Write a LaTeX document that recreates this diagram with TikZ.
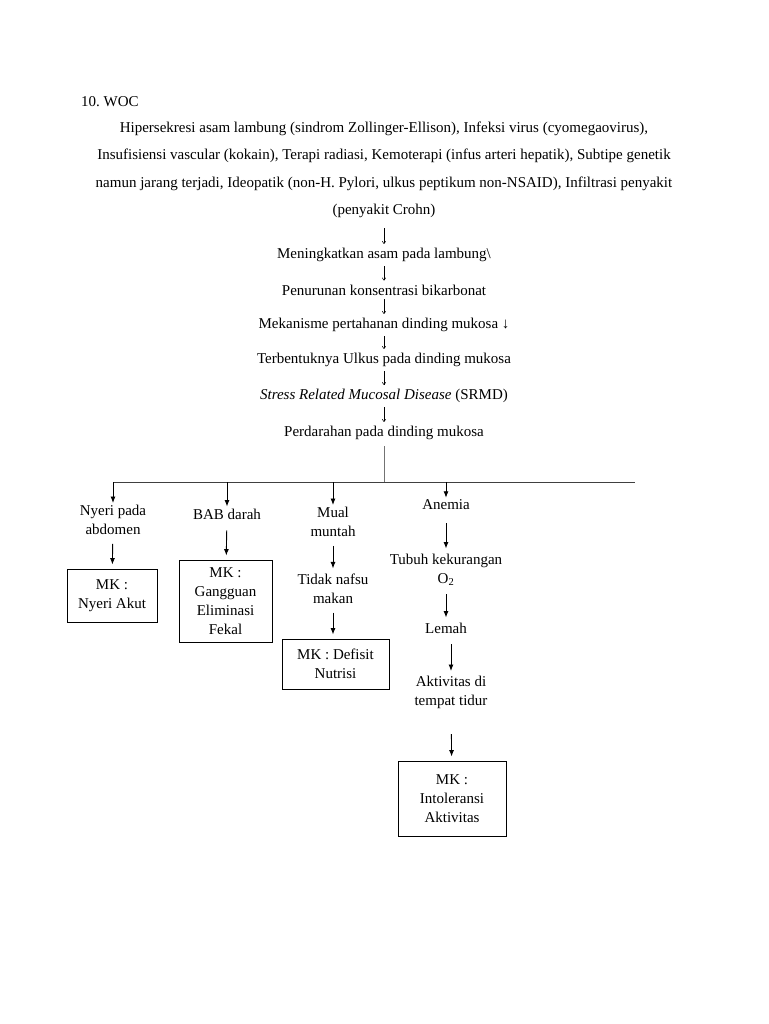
\documentclass[tikz,border=0pt]{standalone}
\usepackage{fontspec}
\setmainfont{Liberation Serif}
\usetikzlibrary{arrows.meta}
\frenchspacing

\tikzset{
  txt/.style={inner sep=1pt, align=center, font=\fontsize{15}{19}\selectfont},
  chainarr/.style={-{To[length=3pt,width=4pt]}, line width=0.5pt, shorten >=3pt, shorten <=3pt},
  arr/.style={-{Latex[length=6.5pt,width=5pt]}, line width=0.9pt, shorten <=8pt, shorten >=4pt},
  mkbox/.style={draw, line width=0.9pt, inner sep=1pt, align=center, font=\fontsize{15}{19}\selectfont}
}

\begin{document}
\begin{tikzpicture}[x=1pt,y=-1pt]
  %%%%% START %%%%%
  \useasboundingbox[fill=white] (0,0) rectangle (768,1024);

  % causes
  \node[txt, anchor=west] (title) at (80,102) {10. WOC};
  \node[txt, font=\fontsize{15}{27.5}\selectfont] (cause) at (384,170)
    {Hipersekresi asam lambung (sindrom Zollinger-Ellison), Infeksi virus (cyomegaovirus),\\
     Insufisiensi vascular (kokain), Terapi radiasi, Kemoterapi (infus arteri hepatik), Subtipe genetik\\
     namun jarang terjadi, Ideopatik (non-H. Pylori, ulkus peptikum non-NSAID), Infiltrasi penyakit\\
     (penyakit Crohn)};

  % main chain
  \node[txt] (asam) at (384,255) {Meningkatkan asam pada lambung\textbackslash};
  \node[txt] (bikar) at (384,290) {Penurunan konsentrasi bikarbonat};
  \node[txt] (mekan) at (384,325) {Mekanisme pertahanan dinding mukosa ↓};
  \node[txt] (ulkus) at (384,360) {Terbentuknya Ulkus pada dinding mukosa};
  \node[txt] (srmd) at (384,396) {\textit{Stress Related Mucosal Disease} (SRMD)};
  \node[txt] (darah) at (384,433) {Perdarahan pada dinding mukosa};

  \draw[chainarr, shorten <=9pt] (cause) -- (asam);
  \draw[chainarr] (asam) -- (bikar);
  \draw[chainarr] (bikar) -- (mekan);
  \draw[chainarr] (mekan) -- (ulkus);
  \draw[chainarr] (ulkus) -- (srmd);
  \draw[chainarr] (srmd) -- (darah);

  % split bar
  \coordinate (split) at (384,482);
  \coordinate (barL) at (113,482);
  \coordinate (barB) at (227,482);
  \coordinate (barM) at (333,482);
  \coordinate (barA) at (446,482);
  \coordinate (barR) at (635,482);
  \draw[black!55, line width=0.8pt, shorten <=5pt] (darah) -- (split);
  \draw[black!75, line width=0.8pt] (barL) -- (barR);

  % branches
  \node[txt] (nyeri) at (113,520) {Nyeri pada\\abdomen};
  \node[txt] (bab) at (227,514) {BAB darah};
  \node[txt] (mual) at (333,522) {Mual\\muntah};
  \node[txt] (anemia) at (446,505) {Anemia};

  \draw[arr, shorten <=0pt, shorten >=1pt] (barL) -- (nyeri);
  \draw[arr, shorten <=0pt, shorten >=1pt] (barB) -- (bab);
  \draw[arr, shorten <=0pt, shorten >=1pt] (barM) -- (mual);
  \draw[arr, shorten <=0pt, shorten >=1pt] (barA) -- (anemia);

  % nyeri
  \node[mkbox, minimum width=90pt, minimum height=53pt] (mkNyeri) at (112,595.5) {MK :\\Nyeri Akut};
  \draw[arr] (nyeri) -- (mkNyeri);

  % bab
  \node[mkbox, minimum width=93pt, minimum height=82pt] (mkFekal) at (225.5,601) {MK :\\Gangguan\\Eliminasi\\Fekal};
  \draw[arr, shorten <=10pt] (bab) -- (mkFekal);

  % mual
  \node[txt] (nafsu) at (333,588.5) {Tidak nafsu\\makan};
  \node[mkbox, minimum width=107pt, minimum height=50pt] (mkNutrisi) at (335.5,664) {MK : Defisit\\Nutrisi};
  \draw[arr] (mual) -- (nafsu);
  \draw[arr] (nafsu.south) -- (nafsu.south |- mkNutrisi.north);

  % anemia
  \node[txt] (tubuh) at (446,569.5) {Tubuh kekurangan\\O\textsubscript{2}};
  \node[txt] (lemah) at (446,628) {Lemah};
  \node[txt] (aktiv) at (451,692.5) {Aktivitas di\\tempat tidur};
  \node[mkbox, minimum width=108pt, minimum height=75pt] (mkAktiv) at (452,798.5) {MK :\\Intoleransi\\Aktivitas};
  \draw[arr, shorten <=12pt] (anemia) -- (tubuh);
  \draw[arr] (tubuh) -- (lemah);
  \draw[arr, shorten <=10pt] (lemah.south -| aktiv.north) -- (aktiv.north);
  \draw[arr, shorten <=24pt] (aktiv) -- (mkAktiv);
  %%%%% END %%%%%
\end{tikzpicture}
\end{document}
